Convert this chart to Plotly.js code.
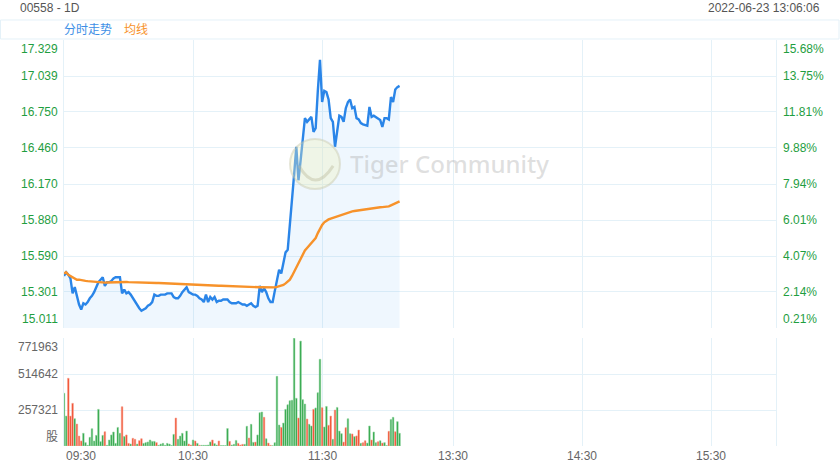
<!DOCTYPE html>
<html><head><meta charset="utf-8">
<script src="https://cdn.plot.ly/plotly-3.0.1.min.js"></script>
<style>html,body{margin:0;padding:0;background:#fff}#chart{width:840px;height:470px}</style>
</head><body><div id="chart"></div>
<script>
const symbolText = '00558 - 1D';
const stampText = '2022-06-23 13:06:06';
const legendPrice = '分时走势';
const legendAvg = '均线';
const watermark = 'Tiger Community';

const price = [
15.43,15.46,15.44,15.41,15.29,15.34,15.27,15.20,15.16,15.21,
15.20,15.22,15.25,15.27,15.30,15.34,15.38,15.40,15.42,15.35,
15.38,15.38,15.39,15.41,15.42,15.42,15.42,15.29,15.32,15.29,
15.30,15.28,15.25,15.22,15.19,15.17,15.15,15.16,15.17,15.19,
15.20,15.22,15.28,15.27,15.27,15.28,15.28,15.28,15.29,15.29,
15.29,15.26,15.25,15.25,15.27,15.30,15.32,15.34,15.30,15.29,
15.28,15.28,15.27,15.25,15.24,15.22,15.28,15.22,15.26,15.24,
15.26,15.22,15.23,15.23,15.24,15.24,15.24,15.22,15.21,15.21,
15.21,15.22,15.21,15.20,15.20,15.19,15.20,15.21,15.19,15.18,
15.19,15.35,15.30,15.33,15.30,15.25,15.22,15.22,15.31,15.40,
15.48,15.45,15.53,15.62,15.64,15.83,16.00,16.25,16.47,16.20,
16.36,16.55,16.70,16.67,16.69,16.71,16.59,16.62,16.92,17.17,
16.83,16.92,16.91,16.85,16.70,16.67,16.47,16.60,16.72,16.71,
16.67,16.78,16.83,16.85,16.78,16.79,16.70,16.69,16.66,16.65,
16.645,16.64,16.79,16.71,16.72,16.71,16.70,16.685,16.63,16.70,
16.70,16.69,16.87,16.83,16.93,16.95,16.96
];
const avgPrice = [
15.45,15.46,15.44,15.43,15.42,15.41,15.40,15.40,15.395,15.39,
15.39,15.388,15.386,15.384,15.382,15.38,15.378,15.377,15.376,15.376,
15.377,15.378,15.379,15.38,15.381,15.382,15.382,15.382,15.381,15.381,
15.38,15.379,15.378,15.377,15.376,15.375,15.374,15.374,15.373,15.373,
15.373,15.373,15.373,15.373,15.373,15.372,15.371,15.370,15.369,15.368,
15.367,15.366,15.365,15.364,15.363,15.362,15.361,15.360,15.359,15.358,
15.358,15.357,15.357,15.356,15.356,15.355,15.355,15.354,15.354,15.353,
15.353,15.352,15.351,15.351,15.350,15.349,15.349,15.348,15.347,15.347,
15.346,15.345,15.345,15.344,15.343,15.343,15.342,15.341,15.340,15.340,
15.339,15.339,15.339,15.338,15.338,15.338,15.337,15.337,15.338,15.342,
15.347,15.352,15.358,15.370,15.382,15.400,15.430,15.465,15.500,15.540,
15.575,15.605,15.635,15.655,15.675,15.692,15.710,15.735,15.775,15.810,
15.840,15.862,15.875,15.885,15.892,15.898,15.903,15.910,15.918,15.924,
15.930,15.936,15.942,15.946,15.950,15.953,15.956,15.959,15.962,15.965,
15.967,15.969,15.972,15.975,15.978,15.980,15.982,15.983,15.984,15.985,
15.987,15.990,15.998,16.006,16.016,16.027,16.03
];
const volume = [
377000,214000,484000,214000,305000,195000,157000,71000,36000,91000,
24000,5000,62000,124000,36000,76000,262000,31000,76000,102000,
5000,43000,79000,100000,19000,133000,91000,281000,67000,79000,
19000,14000,55000,48000,14000,38000,52000,19000,24000,29000,
43000,33000,33000,24000,5000,14000,19000,5000,19000,14000,
4000,83000,200000,48000,71000,91000,36000,107000,14000,7000,
43000,36000,19000,5000,5000,5000,5000,7000,29000,43000,
17000,7000,36000,3000,3000,3000,125000,33000,7000,12000,
40000,19000,7000,12000,12000,141000,57000,155000,26000,28000,
79000,238000,243000,205000,52000,21000,5000,2000,24000,498000,
150000,133000,164000,262000,295000,324000,327000,770000,341000,200000,
750000,331000,300000,193000,155000,143000,262000,272000,381000,620000,
274000,136000,283000,148000,214000,48000,257000,276000,107000,88000,
28000,131000,195000,88000,86000,67000,72000,114000,19000,24000,
38000,21000,143000,43000,100000,24000,31000,38000,21000,24000,
3000,105000,190000,205000,102000,174000,91000
];
// side per bar (r = down/red, g = up/green)
const volSide = [
'g','g','r','r','r','g','r','r','r','g',
'g','g','g','g','g','g','g','g','g','r',
'g','g','g','g','g','g','g','r','g','r',
'r','g','r','r','g','r','r','g','g','g',
'g','g','g','r','g','g','g','g','g','g',
'g','g','r','g','g','g','g','g','r','r',
'g','r','g','r','g','g','g','g','g','r',
'g','g','r','g','g','g','g','r','g','g',
'g','r','r','r','g','g','r','g','g','r',
'g','g','g','r','g','r','r','g','g','g',
'g','r','g','g','g','g','g','g','g','r',
'g','g','g','r','g','g','r','g','g','g',
'r','g','g','r','r','g','r','g','g','g',
'r','r','g','g','r','g','r','r','g','r',
'r','g','g','r','g','g','r','g','r','g',
'g','r','g','g','r','g','g'
];

const priceTicks = [15.011,15.301,15.590,15.880,16.170,16.460,16.750,17.039,17.329];
const priceTickText = ['15.011','15.301','15.590','15.880','16.170','16.460','16.750','17.039','17.329'];
const pctTickText = ['0.21%','2.14%','4.07%','6.01%','7.94%','9.88%','11.81%','13.75%','15.68%'];
const volTicks = [0,257321,514642,771963];
const volTickText = ['股','257321','514642','771963'];
const timeTickVals = [0,60,120,181,241,301];
const timeTickText = ['09:30','10:30','11:30','13:30','14:30','15:30'];

const idx = price.map((_, i) => i);
const vidx = volume.map((_, i) => i);

const GRID = '#e4f1f8';
const GREEN_TXT = '#1f9e3f';
const GRAY_TXT = '#666666';
const NUM_FONT = 'Liberation Sans, Arial, sans-serif';
const CJK_FONT = 'Noto Sans CJK SC, sans-serif';

const barColor = volSide.map(s => s === 'r' ? '#f0401e' : '#1f9e3a');
const barEdge = volSide.map(s => s === 'r' ? '#f7a593' : '#98d6a6');

const traces = [
  {type:'scatter', mode:'lines', x: idx, y: price, xaxis:'x', yaxis:'y',
   line:{color:'#2a85e8', width:2.4}, fill:'tozeroy', fillcolor:'rgba(80,170,240,0.09)',
   hoverinfo:'skip', showlegend:false},
  {type:'scatter', mode:'lines', x: idx, y: avgPrice, xaxis:'x', yaxis:'y',
   line:{color:'#f7922a', width:2.4}, hoverinfo:'skip', showlegend:false},
  {type:'bar', x: vidx, y: volume, xaxis:'x', yaxis:'y2', width:0.72,
   marker:{color: barColor, line:{color: barEdge, width:0.6}},
   hoverinfo:'skip', showlegend:false}
];

const annotations = [];
priceTicks.forEach((v, i) => {
  const anchor = i === priceTicks.length - 1 ? 'top' : (i === 0 ? 'bottom' : 'middle');
  annotations.push({xref:'paper', yref:'y', x:0, y:v, xanchor:'right', yanchor:anchor, xshift:-4,
    text: priceTickText[i], showarrow:false, font:{family:NUM_FONT, size:12, color:GREEN_TXT}});
  annotations.push({xref:'paper', yref:'y', x:1, y:v, xanchor:'left', yanchor:anchor, xshift:5,
    text: pctTickText[i], showarrow:false, font:{family:NUM_FONT, size:12, color:GREEN_TXT}});
});
volTicks.forEach((v, i) => {
  const anchor = i === volTicks.length - 1 ? 'top' : (i === 0 ? 'bottom' : 'middle');
  annotations.push({xref:'paper', yref:'y2', x:0, y:v, xanchor:'right', yanchor:anchor, xshift:-4,
    text: volTickText[i], showarrow:false,
    font:{family: i === 0 ? CJK_FONT : NUM_FONT, size:12, color:GRAY_TXT}});
});
timeTickVals.forEach((v, i) => {
  annotations.push({xref:'x', yref:'paper', x:v, y:0, yanchor:'top', yshift:-1,
    xanchor: i === 0 ? 'left' : 'center',
    text: timeTickText[i], showarrow:false, font:{family:NUM_FONT, size:12, color:GRAY_TXT}});
});
// header timestamp (left edge at ~706px)
annotations.push({xref:'paper', yref:'paper', x:0.9017, y:1.0788, xanchor:'left', yanchor:'middle',
  text: stampText, showarrow:false, font:{family:NUM_FONT, size:12, color:'#555'}});
annotations.push({xref:'paper', yref:'paper', x:-0.003, y:1.0271, xanchor:'left', yanchor:'middle',
  text: legendPrice, showarrow:false, font:{family:CJK_FONT, size:12, color:'#3d8fe6'}});
annotations.push({xref:'paper', yref:'paper', x:0.081, y:1.0271, xanchor:'left', yanchor:'middle',
  text: legendAvg, showarrow:false, font:{family:CJK_FONT, size:12, color:'#f7922a'}});
// watermark
annotations.push({xref:'paper', yref:'paper', x:0.399, y:0.6946, xanchor:'left', yanchor:'middle',
  text: watermark, showarrow:false, font:{family:'Noto Sans, sans-serif', size:24, weight:500, color:'rgba(170,170,170,0.38)'}});

const shapes = [
  {type:'rect', xref:'paper', yref:'paper', x0:-0.0892, x1:1.0885, y0:1.0025, y1:1.0493,
   line:{color:GRID, width:1}, fillcolor:'rgba(0,0,0,0)', layer:'below'},
  {type:'circle', xref:'paper', yref:'paper', x0:0.3525-0.0351, x1:0.3525+0.0351, y0:0.6946-0.0616, y1:0.6946+0.0616,
   line:{color:'rgba(200,200,170,0.45)', width:2}, fillcolor:'rgba(240,240,190,0.35)'},
  {type:'path', xref:'paper', yref:'paper',
   path:'M 0.330 0.690 Q 0.3525 0.620 0.378 0.690',
   line:{color:'rgba(190,190,160,0.45)', width:3}}
];

const layout = {
  width:840, height:470,
  margin:{l:64, r:64, t:40, b:24, pad:0},
  paper_bgcolor:'#ffffff', plot_bgcolor:'#ffffff',
  showlegend:false,
  title:{text: symbolText, xref:'container', yref:'container', x:20/840, xanchor:'left',
    y:1 - 8/470, yanchor:'middle', pad:{l:0, r:0, t:0, b:0},
    font:{family:NUM_FONT, size:12, color:'#555'}},
  xaxis:{domain:[0,1], range:[0,331], anchor:'y2', tickvals: timeTickVals, showticklabels:false,
    ticks:'', showgrid:true, gridcolor:GRID, gridwidth:1, zeroline:false, showline:false, fixedrange:true},
  yaxis:{domain:[0.2906,1], range:[15.011,17.329], tickvals: priceTicks, showticklabels:false, ticks:'',
    showgrid:true, gridcolor:GRID, zeroline:false, showline:true, linecolor:GRID, mirror:true, fixedrange:true},
  yaxis2:{domain:[0,0.266], range:[0,771963], tickvals: volTicks, showticklabels:false, ticks:'',
    showgrid:true, gridcolor:GRID, zeroline:false, showline:true, linecolor:GRID, mirror:true, fixedrange:true},
  bargap:0,
  annotations: annotations,
  shapes: shapes
};

Plotly.newPlot('chart', traces, layout, {displayModeBar:false, staticPlot:true});
</script>
</body></html>
